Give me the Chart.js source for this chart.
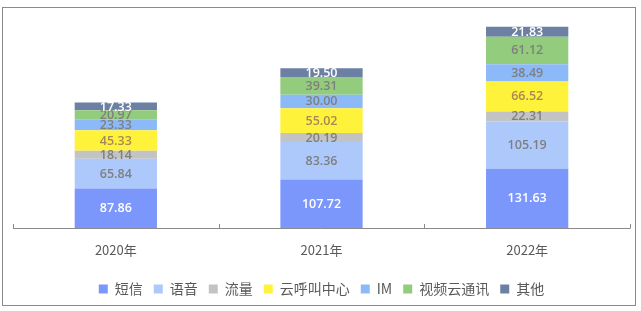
<!DOCTYPE html>
<html>
<head>
<meta charset="utf-8">
<script src="https://cdn.jsdelivr.net/npm/chart.js@4/dist/chart.umd.min.js"></script>
<style>
    html, body { margin: 0; padding: 0; background: #fff; }
    #wrap { width: 641px; height: 311px; position: relative; }
</style>
</head>
<body>
<div id="wrap"><canvas id="chart"></canvas></div>
<script>
// 年份
const years = ['2020年', '2021年', '2022年'];

// 各业务收入
const sms = [87.86, 107.72, 131.63];
const voice = [65.84, 83.36, 105.19];
const traffic = [18.14, 20.19, 22.31];
const callCenter = [45.33, 55.02, 66.52];
const im = [23.33, 30.00, 38.49];
const videoCloud = [20.97, 39.31, 61.12];
const others = [17.33, 19.50, 21.83];

const series = [
    ['短信', sms, '#7b97fb', '#ffffff'],
    ['语音', voice, '#adc9fb', '#7f7f7f'],
    ['流量', traffic, '#c3c3c3', '#7f7f7f'],
    ['云呼叫中心', callCenter, '#fff23a', '#a8875a'],
    ['IM', im, '#8cbaf9', '#7f7f7f'],
    ['视频云通讯', videoCloud, '#93cc7c', '#7f7f7f'],
    ['其他', others, '#6b80a3', '#ffffff'],
];

const FONT = '"Noto Sans CJK SC", "Noto Sans", sans-serif';

// 外框 + 坐标轴刻度
const framePlugin = {
    id: 'frame',
    beforeDraw(chart) {
        const ctx = chart.ctx;
        ctx.save();
        ctx.fillStyle = '#fff';
        ctx.fillRect(0, 0, chart.width, chart.height);
        ctx.strokeStyle = '#8a8a8a';
        ctx.lineWidth = 1;
        ctx.strokeRect(2.5, 7.5, 633, 298);
        ctx.restore();
    },
    afterDraw(chart) {
        const ctx = chart.ctx;
        const area = chart.chartArea;
        const step = (area.right - area.left) / years.length;
        ctx.save();
        ctx.strokeStyle = '#8a8a8a';
        ctx.lineWidth = 1;
        ctx.beginPath();
        ctx.moveTo(area.left, area.bottom + 0.5);
        ctx.lineTo(area.right, area.bottom + 0.5);
        for (let i = 0; i <= years.length; i++) {
            const px = Math.round(area.left + step * i) + 0.5;
            ctx.moveTo(px, area.bottom + 0.5);
            ctx.lineTo(px, area.bottom - 4);
        }
        ctx.stroke();
        ctx.restore();
    },
};

// 数据标签
const labelPlugin = {
    id: 'segLabels',
    afterDatasetsDraw(chart) {
        const ctx = chart.ctx;
        ctx.save();
        ctx.font = '600 12.5px "Open Sans", sans-serif';
        ctx.textAlign = 'center';
        ctx.textBaseline = 'middle';
        chart.data.datasets.forEach((ds, i) => {
            const meta = chart.getDatasetMeta(i);
            meta.data.forEach((bar, j) => {
                ctx.fillStyle = series[i][3];
                ctx.fillText(ds.data[j].toFixed(2), bar.x, (bar.y + bar.base) / 2 + 0.5);
            });
        });
        ctx.restore();
    },
};

new Chart(document.getElementById('chart'), {
    type: 'bar',
    data: {
        labels: years,
        datasets: series.map((s) => {
            return {
                label: s[0],
                data: s[1],
                backgroundColor: s[2],
                borderWidth: 0,
                categoryPercentage: 1,
                barPercentage: 0.4,
            };
        }),
    },
    options: {
        responsive: true,
        maintainAspectRatio: false,
        animation: false,
        events: [],
        layout: {
            padding: { left: 13, right: 11, top: 12, bottom: 5 },
        },
        plugins: {
            legend: {
                position: 'bottom',
                labels: {
                    boxWidth: 9,
                    boxHeight: 9,
                    padding: 11,
                    color: '#595959',
                    font: { family: FONT, size: 14 },
                },
            },
            tooltip: { enabled: false },
        },
        scales: {
            x: {
                stacked: true,
                grid: { display: false, drawTicks: false },
                border: { display: false },
                ticks: {
                    color: '#595959',
                    padding: 14,
                    font: { family: FONT, size: 13 },
                },
                afterFit(scale) {
                    scale.height = 43;
                },
            },
            y: {
                stacked: true,
                display: false,
                min: 0,
                max: 480,
            },
        },
    },
    plugins: [framePlugin, labelPlugin],
});
</script>
</body>
</html>
